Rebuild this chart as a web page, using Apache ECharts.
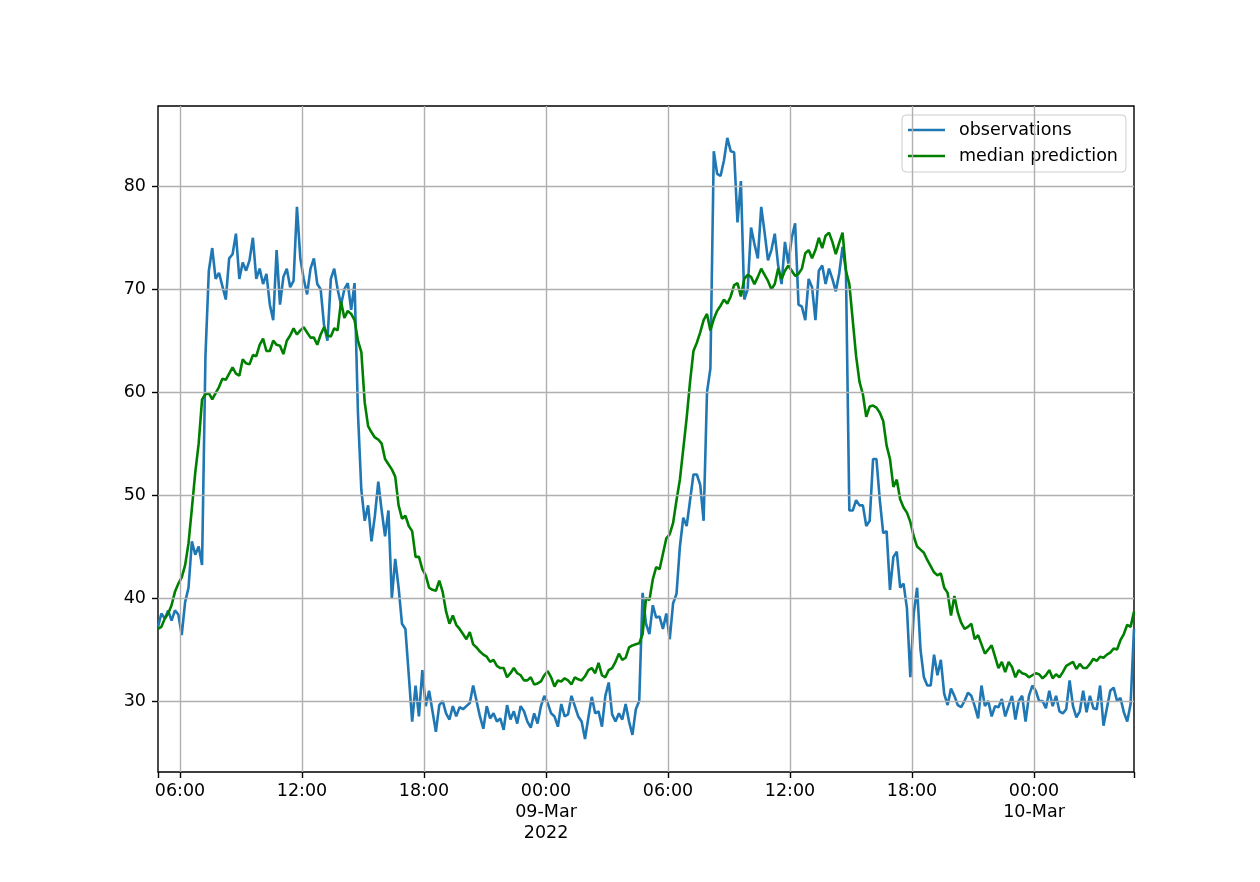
<!DOCTYPE html>
<html>
<head>
<meta charset="utf-8">
<script src="https://cdn.jsdelivr.net/npm/echarts@6/dist/echarts.min.js"></script>
<style>
html,body{margin:0;padding:0;background:#ffffff;}
#chart{width:1260px;height:882px;}
</style>
</head>
<body>
<div id="chart"></div>
<script>
// Time base: hours since 2022-03-08 00:00, first sample 04:55, 10-minute steps
const startHour = 4 + 55 / 60;
const stepMinutes = 10;

const observations = [
  37.2, 38.5, 38.0, 38.8, 37.8, 38.8, 38.4, 36.4, 39.6, 41.0,
  45.5, 44.2, 45.0, 43.2, 63.5, 71.8, 74.0, 71.0, 71.6, 70.3,
  69.0, 73.0, 73.4, 75.4, 71.0, 72.6, 71.8, 72.8, 75.0, 71.0,
  72.0, 70.5, 71.5, 68.5, 67.0, 73.8, 68.5, 71.2, 72.0, 70.2,
  70.8, 78.0, 73.0, 71.0, 69.5, 72.0, 73.0, 70.5, 70.0, 66.5,
  65.0, 71.0, 72.0, 70.0, 68.5, 70.0, 70.6, 68.0, 70.6, 58.0,
  50.5, 47.5, 49.0, 45.5, 48.0, 51.3, 48.5, 46.0, 48.5, 40.0,
  43.8, 41.0, 37.5, 37.0, 32.5, 28.0, 31.5, 28.5, 33.0, 29.5,
  31.0, 29.0, 27.0, 29.6, 30.0, 28.8, 28.2, 29.5, 28.5, 29.4,
  29.2, 29.5, 29.8, 31.5, 30.0, 28.5, 27.3, 29.5, 28.3, 28.8,
  28.0, 28.3, 27.2, 29.6, 28.2, 29.0, 27.8, 29.5, 29.0, 28.0,
  27.4, 28.8, 27.8, 29.5, 30.5, 29.8, 28.8, 28.5, 27.5, 29.7,
  28.5, 28.7, 30.5, 29.5, 28.5, 28.0, 26.3, 28.4, 30.4, 28.8,
  29.0, 27.5, 30.5, 31.8, 28.7, 28.0, 28.8, 28.2, 29.7, 28.0,
  26.7, 29.2, 30.0, 40.5, 37.5, 36.5, 39.3, 38.1, 38.2, 37.0,
  38.5, 36.0, 39.5, 40.4, 45.0, 47.8, 47.0, 49.5, 52.0, 52.0,
  51.0, 47.5, 60.0, 62.3, 83.4, 81.2, 81.0, 82.5, 84.7, 83.4,
  83.3, 76.5, 80.5, 69.0, 70.0, 76.0, 74.4, 73.0, 78.0, 75.5,
  72.8, 73.8, 75.4, 72.3, 70.5, 74.6, 72.5, 75.0, 76.4, 68.5,
  68.3, 67.0, 71.0, 70.2, 67.0, 71.8, 72.3, 70.5, 72.0, 71.0,
  69.8, 71.5, 74.1, 71.8, 48.5, 48.5, 49.5, 49.0, 49.0, 47.0,
  47.5, 53.5, 53.5, 49.5, 46.3, 46.5, 40.8, 44.0, 44.5, 41.0,
  41.4, 39.0, 32.3, 38.5, 41.0, 35.0, 32.3, 31.5, 31.5, 34.5,
  32.5, 34.0, 30.7, 29.6, 31.2, 30.5, 29.6, 29.4, 30.0, 30.8,
  30.5, 29.5, 28.3, 31.5, 29.5, 30.0, 28.5, 29.5, 29.4, 30.2,
  28.5, 29.5, 30.5, 28.2, 30.0, 30.5, 28.0, 30.5, 31.5, 31.0,
  30.0, 30.0, 29.3, 31.0, 29.5, 30.5, 29.0, 28.8, 29.2, 32.0,
  29.5, 28.4, 29.0, 31.0, 28.9, 30.5, 29.3, 29.2, 31.5, 27.6,
  29.3, 31.0, 31.3, 30.0, 30.3, 28.9, 28.0, 29.7, 37.0
];

const medianPrediction = [
  37.0, 37.2, 38.0, 38.5, 39.3, 40.6, 41.4, 42.0, 43.2, 45.3,
  48.7, 52.2, 55.0, 59.3, 59.8, 59.9, 59.3, 59.9, 60.5, 61.3,
  61.2, 61.8, 62.4, 61.8, 61.6, 63.2, 62.8, 62.7, 63.6, 63.5,
  64.6, 65.2, 64.0, 64.0, 65.0, 64.6, 64.5, 63.7, 65.0, 65.5,
  66.2, 65.6, 66.0, 66.3, 65.8, 65.3, 65.3, 64.6, 65.6, 66.3,
  65.5, 65.4, 66.2, 66.0, 68.8, 67.2, 67.9, 67.6, 67.0, 65.0,
  63.9, 59.0, 56.7, 56.1, 55.6, 55.4, 55.0, 53.5, 53.0, 52.5,
  51.8, 49.0, 47.7, 48.0, 47.0, 46.5, 44.0, 44.0, 42.8, 42.2,
  41.0, 40.8, 40.7, 41.7, 40.6, 38.7, 37.5, 38.3, 37.4, 37.0,
  36.5, 36.0, 36.7, 35.5, 35.2, 34.8, 34.5, 34.3, 33.8, 34.0,
  33.4, 33.2, 33.2, 32.3, 32.7, 33.2, 32.7, 32.5, 32.0, 32.0,
  32.3, 31.6, 31.7, 31.9, 32.5, 32.9, 32.3, 31.4, 32.0, 31.9,
  32.2, 32.0, 31.6, 32.3, 32.1, 32.0, 32.4, 33.0, 33.2, 32.7,
  33.7, 32.5, 32.3, 33.0, 33.2, 33.8, 34.6, 34.0, 34.2, 35.2,
  35.4, 35.5, 35.6, 36.5, 40.0, 39.8, 41.8, 43.0, 42.8, 44.3,
  45.8, 46.2, 47.3, 49.5, 51.5, 54.5, 57.5, 61.0, 64.0, 64.8,
  65.8, 67.0, 67.6, 66.0, 67.1, 67.9, 68.4, 69.0, 68.6, 69.3,
  70.4, 70.6, 69.3, 71.0, 71.4, 71.2, 70.5, 71.2, 72.0, 71.4,
  70.8, 70.0, 70.5, 72.0, 71.0, 71.8, 72.3, 71.8, 71.3, 71.5,
  72.0, 73.5, 73.8, 73.0, 73.8, 75.0, 74.0, 75.2, 75.5, 74.6,
  73.4, 74.5, 75.5, 71.8, 70.5, 67.0, 63.5, 61.0, 59.8, 57.6,
  58.6, 58.7, 58.5, 58.0, 57.2, 54.8, 53.5, 50.8, 51.5, 49.6,
  48.8, 48.3, 47.4, 46.0, 45.0, 44.7, 44.4, 43.7, 43.1, 42.5,
  42.2, 42.4, 41.0, 40.5, 38.3, 40.2, 38.6, 37.6, 37.0, 37.2,
  37.5, 36.0, 36.4, 35.5, 34.6, 35.0, 35.4, 34.3, 33.2, 33.8,
  32.8, 33.8, 33.3, 32.3, 33.0, 32.7, 32.6, 32.3, 32.5, 32.7,
  32.6, 32.2, 32.5, 33.0, 32.2, 32.6, 32.3, 32.8, 33.4, 33.6,
  33.8, 33.1, 33.6, 33.2, 33.2, 33.6, 34.1, 33.9, 34.3, 34.2,
  34.5, 34.7, 35.1, 35.0, 35.9, 36.5, 37.4, 37.2, 38.7
];

const tickHours = [6, 12, 18, 24, 30, 36, 42, 48];
const tickLabels = ['06:00', '12:00', '18:00', '00:00\n09-Mar\n2022', '06:00', '12:00', '18:00', '00:00\n10-Mar'];
const yTicks = [30, 40, 50, 60, 70, 80];
const seriesNames = ['observations', 'median prediction'];

const times = observations.map((_, i) => startHour + i * stepMinutes / 60);
const xMin = times[0];
const xMax = times[times.length - 1];
const obsData = observations.map((v, i) => [times[i], v]);
const predData = medianPrediction.map((v, i) => [times[i], v]);

const FONT = 'DejaVu Sans';
const chart = echarts.init(document.getElementById('chart'), null, {renderer: 'canvas'});

chart.setOption({
  backgroundColor: '#ffffff',
  animation: false,
  grid: {
    left: 158, right: 126, top: 106, bottom: 110,
    show: true, borderColor: '#000000', borderWidth: 1.4, backgroundColor: 'transparent'
  },
  legend: {
    data: seriesNames,
    orient: 'vertical',
    left: 902, top: 115,
    padding: [6, 8, 7, 6],
    itemGap: 8,
    itemWidth: 37, itemHeight: 2.6,
    icon: 'rect',
    selectedMode: false,
    backgroundColor: 'rgba(255,255,255,0.8)',
    borderColor: '#cccccc', borderWidth: 1, borderRadius: 4,
    itemStyle: {borderWidth: 0},
    textStyle: {fontFamily: FONT, fontSize: 17.5, color: '#000000', lineHeight: 18, padding: [0, 0, 0, 9]}
  },
  xAxis: {
    type: 'value',
    min: xMin, max: xMax,
    axisLine: {show: false},
    splitLine: {show: false},
    axisTick: {show: true, length: 6, lineStyle: {color: '#000000', width: 1.4},
      customValues: [xMin].concat(tickHours, [xMax])},
    axisLabel: {
      customValues: tickHours,
      fontFamily: FONT, fontSize: 17.5, color: '#000000', lineHeight: 21, margin: 9,
      formatter: function (v) {
        const k = tickHours.findIndex(h => Math.abs(h - v) < 1e-6);
        return k >= 0 ? tickLabels[k] : '';
      }
    }
  },
  yAxis: {
    type: 'value',
    min: 23.1, max: 87.8,
    axisLine: {show: false},
    splitLine: {show: false},
    axisTick: {show: true, length: 6, lineStyle: {color: '#000000', width: 1.4}, customValues: yTicks},
    axisLabel: {customValues: yTicks, fontFamily: FONT, fontSize: 17.5, color: '#000000', margin: 12}
  },
  series: [
    {
      name: '_grid', type: 'line', data: [], z: 1, silent: true,
      markLine: {
        silent: true, animation: false, symbol: ['none', 'none'],
        label: {show: false},
        emphasis: {disabled: true},
        lineStyle: {color: '#b0b0b0', width: 1.4, type: 'solid'},
        data: tickHours.map(h => ({xAxis: h})).concat(yTicks.map(v => ({yAxis: v})))
      }
    },
    {
      name: seriesNames[0], type: 'line', data: obsData, z: 2,
      showSymbol: false, symbol: 'none',
      itemStyle: {color: '#1f77b4'},
      lineStyle: {color: '#1f77b4', width: 2.6},
      emphasis: {disabled: true}
    },
    {
      name: seriesNames[1], type: 'line', data: predData, z: 3,
      showSymbol: false, symbol: 'none',
      itemStyle: {color: '#008000'},
      lineStyle: {color: '#008000', width: 2.6},
      emphasis: {disabled: true}
    }
  ]
});
</script>
</body>
</html>
